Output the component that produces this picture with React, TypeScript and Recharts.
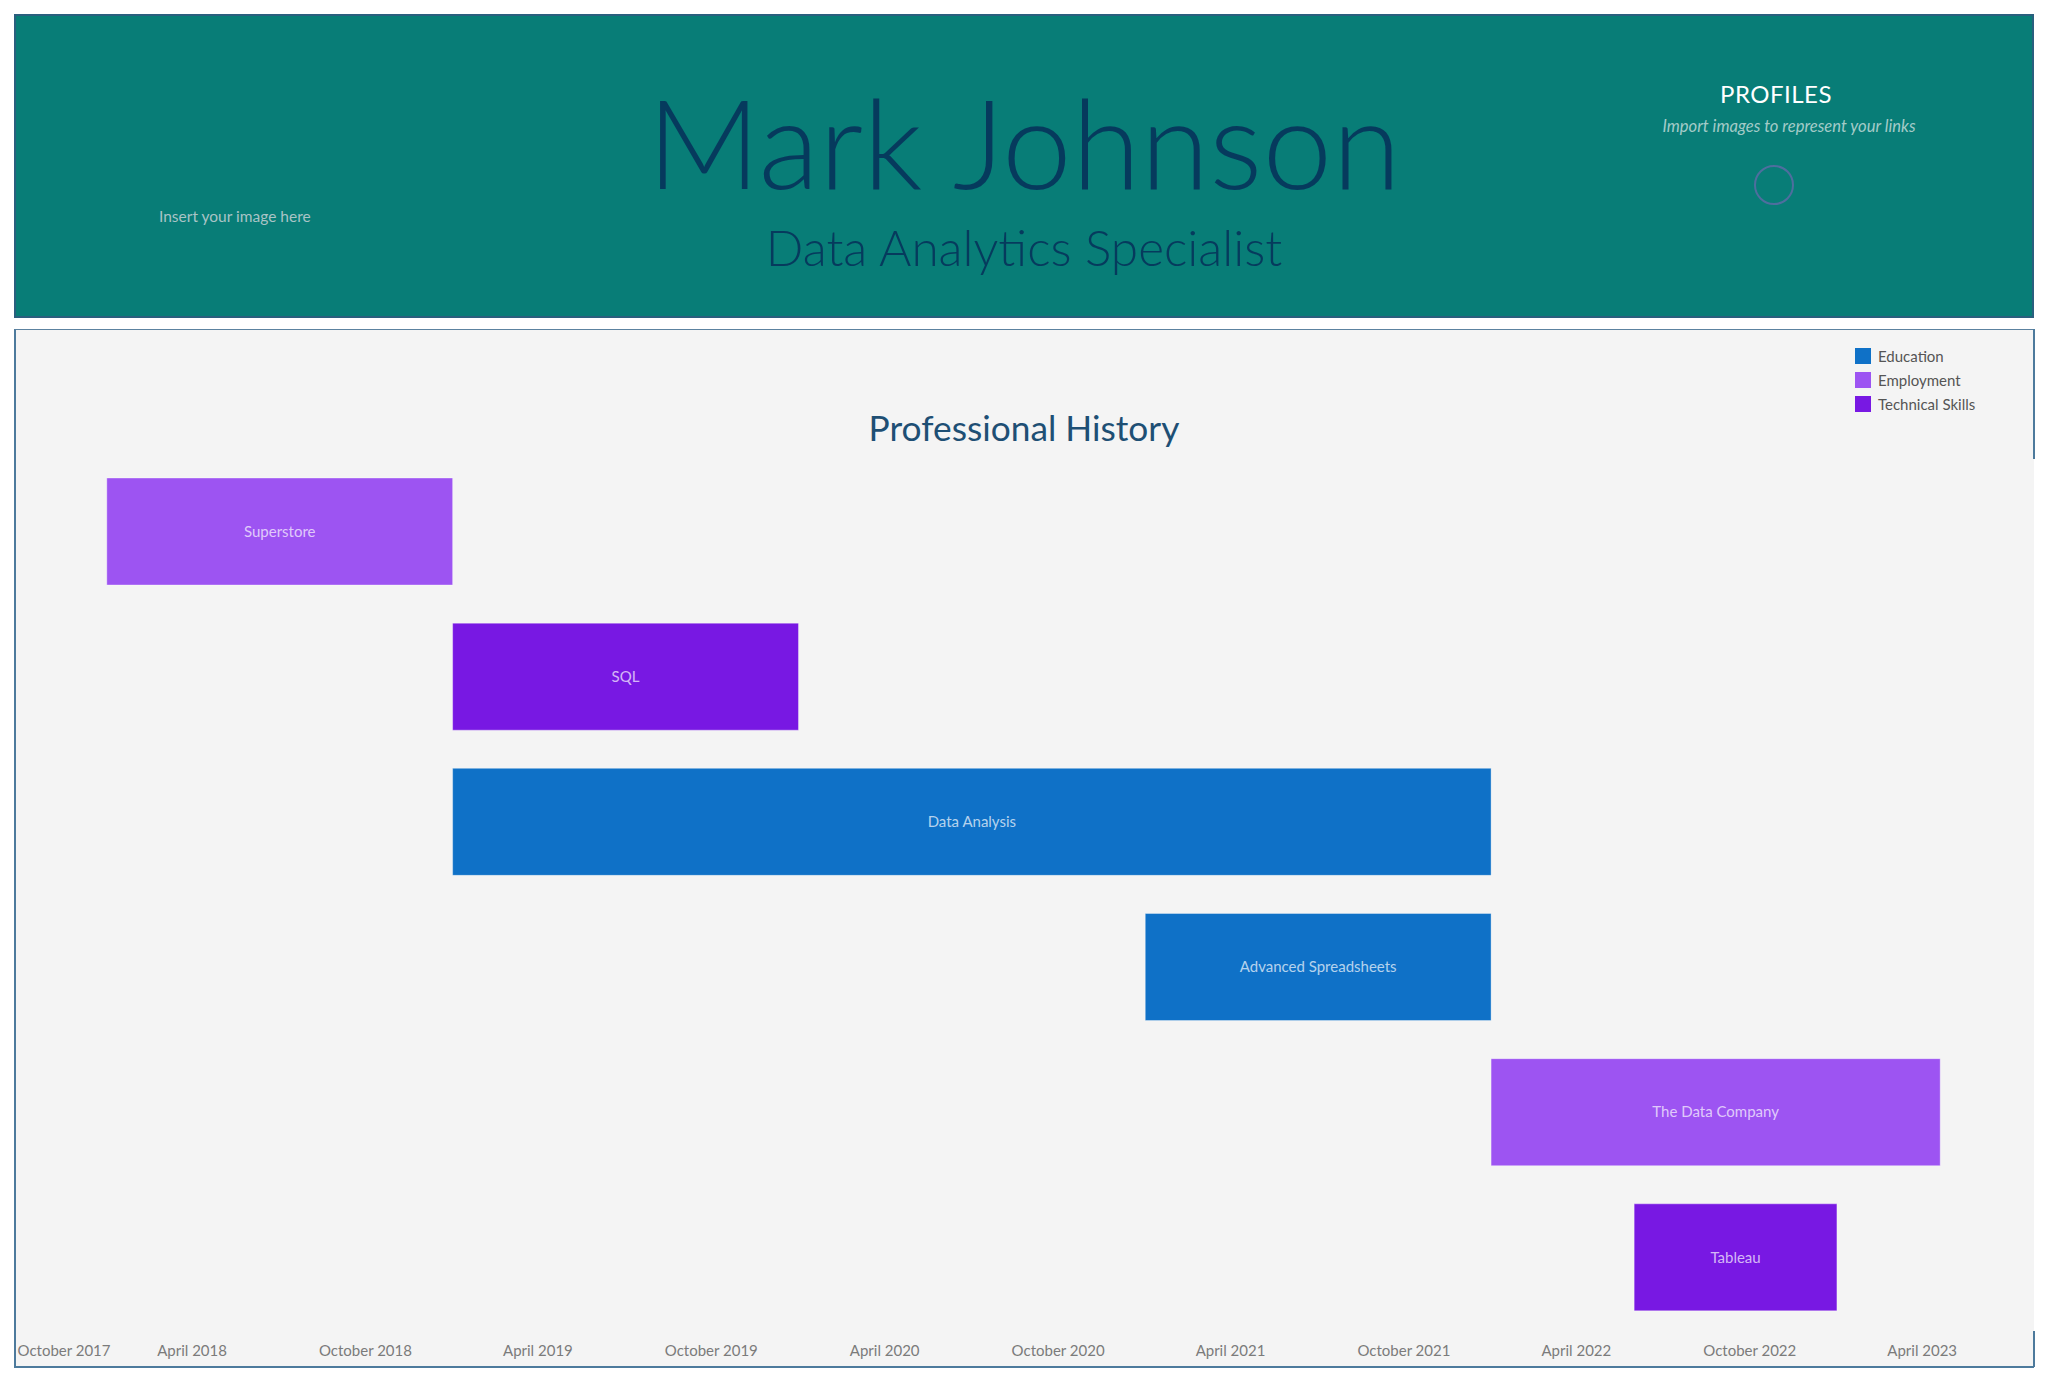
import React from 'react';
import { BarChart, Bar, XAxis, YAxis, Cell, LabelList, Legend } from 'recharts';

// timeline rows, top to bottom
const ITEMS = ['Superstore', 'SQL', 'Data Analysis', 'Advanced Spreadsheets', 'The Data Company', 'Tableau'];
const ITEM_CATEGORY = ['Employment', 'Technical Skills', 'Education', 'Education', 'Employment', 'Technical Skills'];
const START_DATES = ['2018-01-01', '2019-01-01', '2019-01-01', '2021-01-01', '2022-01-01', '2022-06-01'];
const END_DATES = ['2019-01-01', '2020-01-01', '2022-01-01', '2022-01-01', '2023-04-20', '2023-01-01'];

const CATEGORIES = ['Education', 'Employment', 'Technical Skills'];
const TICK_DATES = [
  '2017-10-01', '2018-04-01', '2018-10-01', '2019-04-01', '2019-10-01', '2020-04-01',
  '2020-10-01', '2021-04-01', '2021-10-01', '2022-04-01', '2022-10-01', '2023-04-01',
];
const AXIS_RANGE = ['2017-09-24', '2023-07-28'];

const COLORS: Record<string, string> = {
  Education: '#0F71C7',
  Employment: '#9D54F2',
  'Technical Skills': '#7818E3',
};

const MONTHS = ['January', 'February', 'March', 'April', 'May', 'June', 'July',
  'August', 'September', 'October', 'November', 'December'];

const FONT = 'Lato, "Noto Sans", sans-serif';

const data = ITEMS.map((name, i) => ({
  name,
  category: ITEM_CATEGORY[i],
  span: [Date.parse(START_DATES[i]), Date.parse(END_DATES[i])],
}));

const ticks = TICK_DATES.map(d => Date.parse(d));

const DateTick = (props: any) => {
  const { x, y, payload } = props;
  const d = new Date(payload.value);
  const label = `${MONTHS[d.getUTCMonth()]} ${d.getUTCFullYear()}`;
  // keep the first label inside the panel like the original does
  const tx = Math.max(x, 53);
  return (
    <text x={tx} y={y} dy="0.71em" textAnchor="middle" fill="#7b7b7b" fontSize={15} fontFamily={FONT}>
      {label}
    </text>
  );
};

const renderLegend = () => (
  <div style={{ fontFamily: FONT, fontSize: 15, color: '#555' }}>
    {CATEGORIES.map(c => (
      <div key={c} style={{ display: 'flex', alignItems: 'center', height: 24 }}>
        <span style={{ width: 16, height: 16, background: COLORS[c], marginRight: 7, display: 'inline-block' }} />
        {c}
      </div>
    ))}
  </div>
);

const App: React.FC = () => {
  return (
    <div style={{ position: 'absolute', left: 0, top: 0, width: 2048, height: 1381, background: '#fff', overflow: 'hidden' }}>
      {/* header */}
      <div style={{
        position: 'absolute', left: 14, top: 14, width: 2016, height: 300,
        background: '#087D77', border: '2px solid #2A5F7E',
      }}>
        <div style={{
          position: 'absolute', left: 0, width: 2016, top: 50, textAlign: 'center',
          fontFamily: FONT, fontWeight: 300, fontSize: 125, lineHeight: '150px', color: '#063A5D',
        }}>Mark Johnson</div>
        <div style={{
          position: 'absolute', left: 0, width: 2016, top: 201, textAlign: 'center',
          fontFamily: FONT, fontWeight: 300, fontSize: 49.5, lineHeight: '60px', color: '#063A5D',
        }}>Data Analytics Specialist</div>
        <div style={{
          position: 'absolute', left: 143, top: 191, fontFamily: FONT, fontSize: 15.5, color: '#A9C4C6',
        }}>Insert your image here</div>
        <div style={{
          position: 'absolute', left: 1660, width: 200, top: 63, textAlign: 'center',
          fontFamily: FONT, fontSize: 24, color: '#FFFFFF', letterSpacing: 0.5,
        }}>PROFILES</div>
        <div style={{
          position: 'absolute', left: 1588, width: 370, top: 100, textAlign: 'center',
          fontFamily: FONT, fontStyle: 'italic', fontSize: 16.6, color: '#A3CBC8',
        }}>Import images to represent your links</div>
        <div style={{
          position: 'absolute', left: 1738, top: 149, width: 36, height: 36,
          borderRadius: '50%', border: '2px solid #4E6E9E',
        }} />
      </div>

      {/* chart panel */}
      <div style={{
        position: 'absolute', left: 14, top: 329, width: 2018, height: 1036,
        background: '#F4F4F4', borderTop: '1px solid #5C82A0', borderLeft: '2px solid #4D7A9C',
        borderBottom: '2px solid #4D7A9C',
      }} />
      <div style={{ position: 'absolute', left: 2033, top: 329, width: 2, height: 130, background: '#4D7A9C' }} />
      <div style={{ position: 'absolute', left: 2033, top: 1331, width: 2, height: 36, background: '#4D7A9C' }} />

      <div style={{
        position: 'absolute', left: 0, width: 2048, top: 406, textAlign: 'center',
        fontFamily: FONT, fontSize: 35.3, color: '#1E4F74',
      }}>Professional History</div>

      <div style={{ position: 'absolute', left: 11, top: 329 }}>
        <BarChart
          width={2024}
          height={1037}
          data={data}
          layout="vertical"
          margin={{ top: 130, right: 1, bottom: 0, left: 2 }}
        >
          <XAxis
            type="number"
            domain={AXIS_RANGE.map(d => Date.parse(d))}
            allowDataOverflow
            ticks={ticks}
            interval={0}
            height={36}
            axisLine={false}
            tickLine={false}
            tickMargin={9}
            tick={<DateTick />}
          />
          <YAxis type="category" dataKey="name" hide />
          <Legend
            layout="vertical"
            align="center"
            verticalAlign="middle"
            content={renderLegend}
            wrapperStyle={{ left: 1844, top: 15, width: 180 }}
          />
          <Bar dataKey="span" barSize={107} isAnimationActive={false} stroke="rgba(255,255,255,0.35)" strokeWidth={1}>
            {data.map((d, i) => (
              <Cell key={`cell-${i}`} fill={COLORS[d.category]} />
            ))}
            <LabelList
              dataKey="name"
              position="center"
              fill="#FFFFFF"
              fillOpacity={0.7}
              fontSize={15}
              fontFamily={FONT}
            />
          </Bar>
        </BarChart>
      </div>
    </div>
  );
};

export default App;
